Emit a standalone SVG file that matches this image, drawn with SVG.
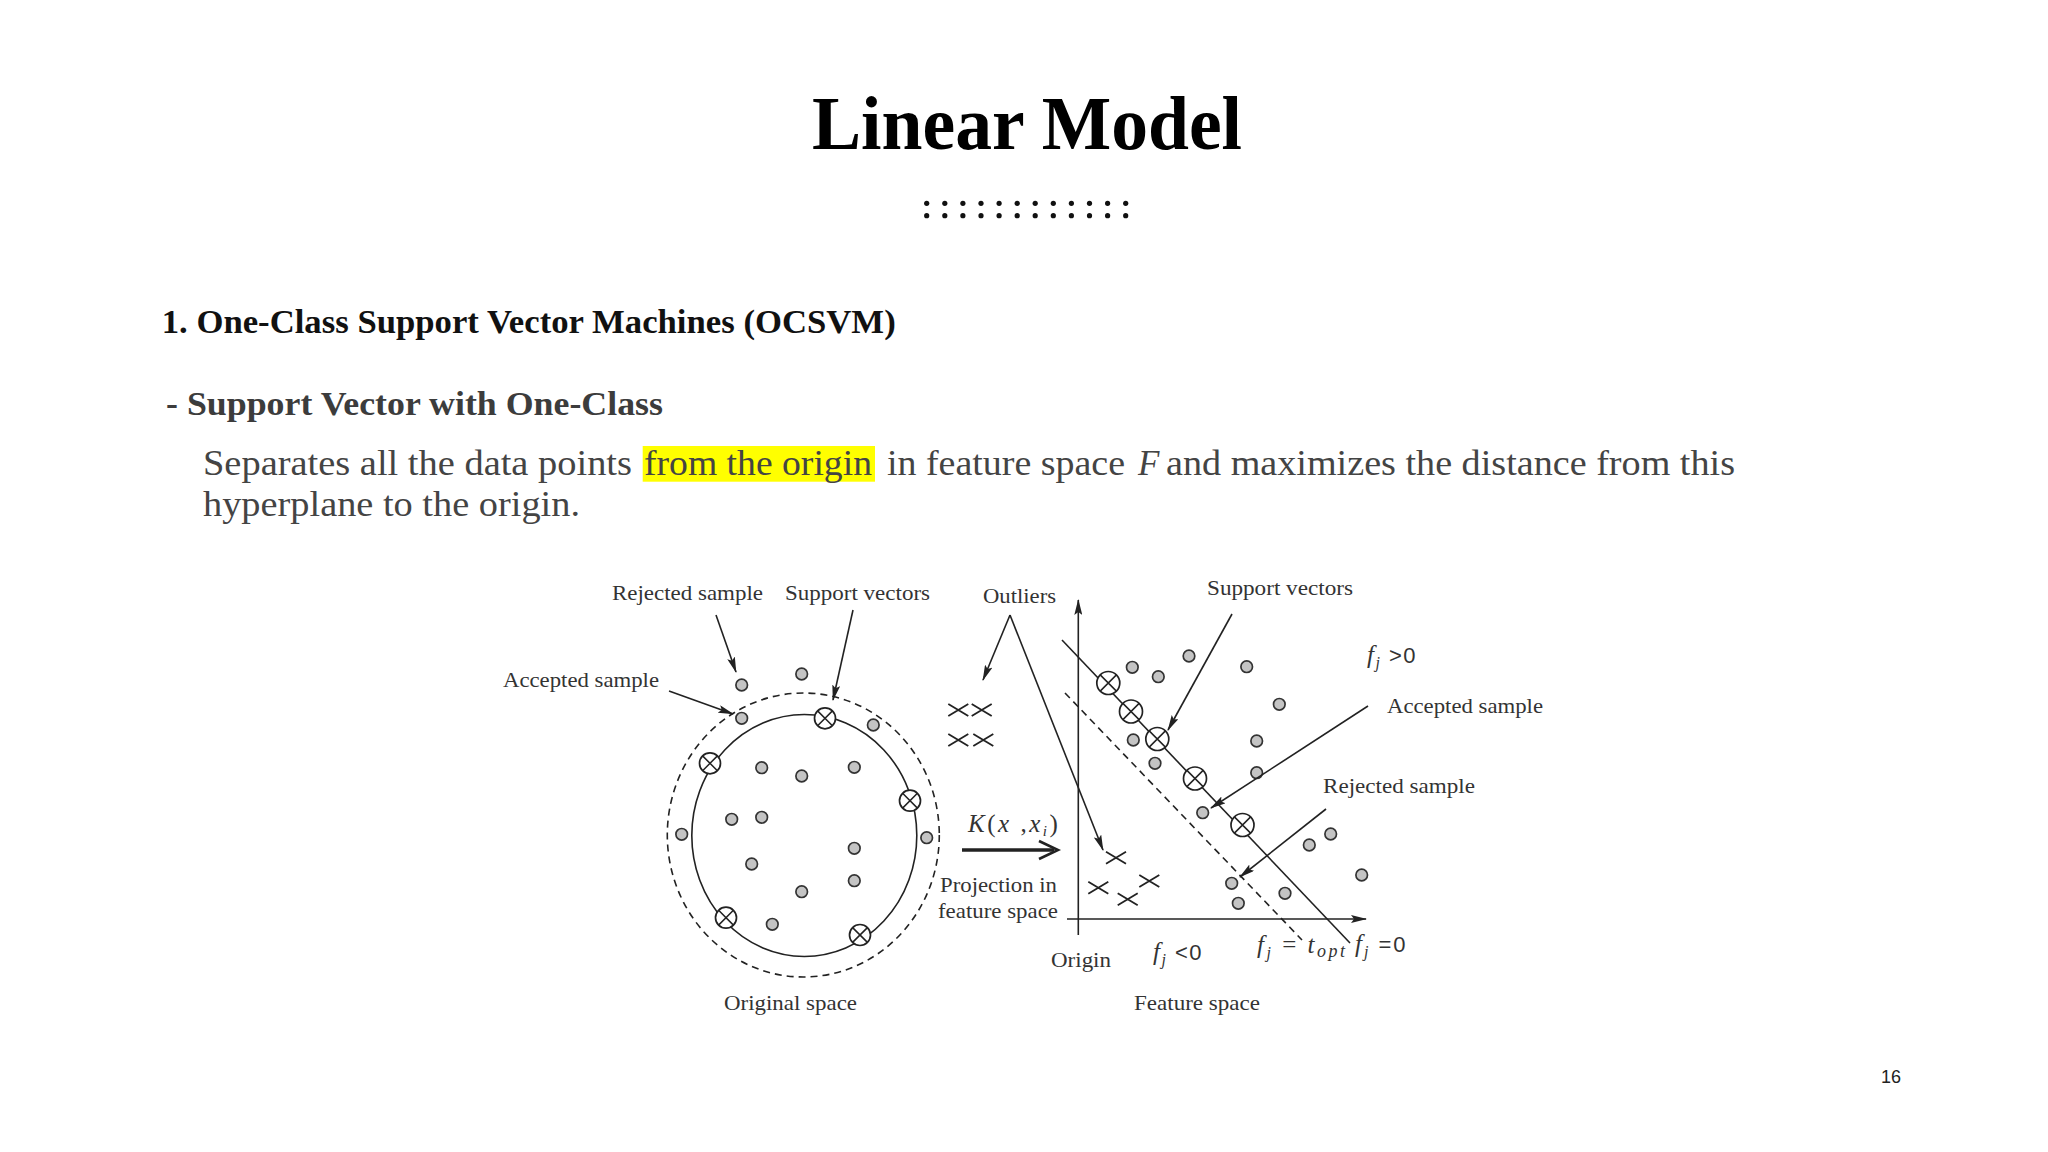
<svg xmlns="http://www.w3.org/2000/svg" xmlns:xlink="http://www.w3.org/1999/xlink" width="2048" height="1152" viewBox="0 0 2048 1152">
<style>
  .title{font-family:"Liberation Serif","DejaVu Serif",serif;font-weight:bold;fill:#000}
  .h1{font-family:"Liberation Serif","DejaVu Serif",serif;font-weight:bold;font-size:34px;fill:#111}
  .h2{font-family:"Liberation Serif","DejaVu Serif",serif;font-weight:bold;font-size:34px;fill:#3c3c3c}
  .body{font-family:"Liberation Serif","DejaVu Serif",serif;font-size:35px;fill:#444}
  .lab{font-family:"Liberation Serif","Times New Roman",serif;font-size:21px;fill:#333}
  .math{font-family:"Liberation Serif","Times New Roman",serif;font-size:25px;fill:#333}
  .it{font-style:italic}
  .sans{font-family:"Liberation Sans",Arial,sans-serif;font-size:22px}
  .ln{stroke:#222;stroke-width:1.6;fill:none}
  .arr{stroke:#222;stroke-width:1.6;fill:none;marker-end:url(#ah)}
  .dash{stroke:#222;stroke-width:1.6;fill:none;stroke-dasharray:7 5}
  .pg{font-family:"Liberation Sans",Arial,sans-serif;font-size:18px;fill:#222}
</style>
<defs>
  <marker id="ah" viewBox="0 0 16 8" refX="15" refY="4" markerWidth="16" markerHeight="8" markerUnits="userSpaceOnUse" orient="auto">
    <path d="M0,0 L16,4 L0,8 L3,4 Z" fill="#222"/>
  </marker>
  <g id="smp"><circle r="5.8" fill="#c4c4c4" stroke="#333" stroke-width="1.7"/></g>
  <g id="sv"><circle r="10.5" fill="#fff" stroke="#222" stroke-width="1.7"/><path d="M-7.4,-7.4 L7.4,7.4 M-7.4,7.4 L7.4,-7.4" stroke="#222" stroke-width="1.5"/></g>
  <g id="sv2"><circle r="11.5" fill="#fff" stroke="#222" stroke-width="1.7"/><path d="M-8.1,-8.1 L8.1,8.1 M-8.1,8.1 L8.1,-8.1" stroke="#222" stroke-width="1.5"/></g>
  <path id="cr" d="M-10,-6 L10,6 M-10,6 L10,-6" stroke="#222" stroke-width="1.8" fill="none"/>
</defs>
<rect width="2048" height="1152" fill="#fff"/>

<g id="title">
  <text class="title" x="812" y="149" font-size="77" textLength="430" lengthAdjust="spacingAndGlyphs">Linear Model</text>
</g>
<g id="title-dots" fill="#111">
  <circle cx="926.7" cy="203.3" r="2.6"/><circle cx="944.8" cy="203.3" r="2.6"/><circle cx="962.9" cy="203.3" r="2.6"/><circle cx="981" cy="203.3" r="2.6"/><circle cx="999.1" cy="203.3" r="2.6"/><circle cx="1017.2" cy="203.3" r="2.6"/><circle cx="1035.2" cy="203.3" r="2.6"/><circle cx="1053.3" cy="203.3" r="2.6"/><circle cx="1071.4" cy="203.3" r="2.6"/><circle cx="1089.5" cy="203.3" r="2.6"/><circle cx="1107.6" cy="203.3" r="2.6"/><circle cx="1125.7" cy="203.3" r="2.6"/>
  <circle cx="926.7" cy="215.7" r="2.6"/><circle cx="944.8" cy="215.7" r="2.6"/><circle cx="962.9" cy="215.7" r="2.6"/><circle cx="981" cy="215.7" r="2.6"/><circle cx="999.1" cy="215.7" r="2.6"/><circle cx="1017.2" cy="215.7" r="2.6"/><circle cx="1035.2" cy="215.7" r="2.6"/><circle cx="1053.3" cy="215.7" r="2.6"/><circle cx="1071.4" cy="215.7" r="2.6"/><circle cx="1089.5" cy="215.7" r="2.6"/><circle cx="1107.6" cy="215.7" r="2.6"/><circle cx="1125.7" cy="215.7" r="2.6"/>
</g>

<g id="heading-1">
  <text class="h1" x="161.7" y="333" textLength="734" lengthAdjust="spacingAndGlyphs">1. One-Class Support Vector Machines (OCSVM)</text>
</g>
<g id="heading-2">
  <text class="h2" x="166" y="415" textLength="497" lengthAdjust="spacingAndGlyphs">- Support Vector with One-Class</text>
</g>

<g id="body-text">
  <rect x="642.7" y="446" width="232.3" height="35.7" fill="#ffff00"/>
  <text class="body" x="203" y="475" textLength="429" lengthAdjust="spacingAndGlyphs">Separates all the data points</text>
  <text class="body" x="644" y="475" textLength="228" lengthAdjust="spacingAndGlyphs" fill="#333">from the origin</text>
  <text class="body" x="887" y="475" textLength="238" lengthAdjust="spacingAndGlyphs">in feature space</text>
  <text class="body it" x="1138" y="475">F</text>
  <text class="body" x="1166" y="475" textLength="569" lengthAdjust="spacingAndGlyphs">and maximizes the distance from this</text>
  <text class="body" x="203" y="516" textLength="377" lengthAdjust="spacingAndGlyphs">hyperplane to the origin.</text>
</g>

<g id="original-space">
  <ellipse cx="803.3" cy="835" rx="136" ry="142" class="dash"/>
  <ellipse cx="804.3" cy="835.5" rx="112.5" ry="121" class="ln"/>
  <use xlink:href="#smp" x="741.7" y="685"/>
  <use xlink:href="#smp" x="801.7" y="674"/>
  <use xlink:href="#smp" x="741.7" y="718.3"/>
  <use xlink:href="#smp" x="873.3" y="725"/>
  <use xlink:href="#smp" x="761.7" y="767.7"/>
  <use xlink:href="#smp" x="801.7" y="776"/>
  <use xlink:href="#smp" x="854.3" y="767.3"/>
  <use xlink:href="#smp" x="731.7" y="819.3"/>
  <use xlink:href="#smp" x="761.7" y="817.3"/>
  <use xlink:href="#smp" x="681.7" y="834.3"/>
  <use xlink:href="#smp" x="926.7" y="837.7"/>
  <use xlink:href="#smp" x="854.3" y="848.3"/>
  <use xlink:href="#smp" x="751.7" y="864"/>
  <use xlink:href="#smp" x="854.3" y="880.7"/>
  <use xlink:href="#smp" x="801.7" y="891.7"/>
  <use xlink:href="#smp" x="772.3" y="924.3"/>
  <use xlink:href="#sv" x="825" y="718.3"/>
  <use xlink:href="#sv" x="710" y="763.3"/>
  <use xlink:href="#sv" x="910" y="800.7"/>
  <use xlink:href="#sv" x="726" y="917.7"/>
  <use xlink:href="#sv" x="860" y="935"/>
</g>

<g id="outliers-original">
  <use xlink:href="#cr" x="958.3" y="710"/>
  <use xlink:href="#cr" x="981.7" y="710"/>
  <use xlink:href="#cr" x="958.3" y="740"/>
  <use xlink:href="#cr" x="983.3" y="740"/>
</g>

<g id="feature-space">
  <line x1="1062" y1="640" x2="1350" y2="943" class="ln"/>
  <line x1="1065" y1="693" x2="1302" y2="940" class="dash"/>
  <use xlink:href="#smp" x="1132.3" y="667.3"/>
  <use xlink:href="#smp" x="1158.3" y="676.7"/>
  <use xlink:href="#smp" x="1189" y="656"/>
  <use xlink:href="#smp" x="1133.3" y="740"/>
  <use xlink:href="#smp" x="1155" y="763.3"/>
  <use xlink:href="#smp" x="1202.7" y="812.7"/>
  <use xlink:href="#smp" x="1231.7" y="883.3"/>
  <use xlink:href="#smp" x="1238.3" y="903.3"/>
  <use xlink:href="#smp" x="1246.7" y="666.7"/>
  <use xlink:href="#smp" x="1279.3" y="704.3"/>
  <use xlink:href="#smp" x="1256.7" y="741"/>
  <use xlink:href="#smp" x="1256.7" y="772.7"/>
  <use xlink:href="#smp" x="1309.3" y="845"/>
  <use xlink:href="#smp" x="1330.7" y="834"/>
  <use xlink:href="#smp" x="1361.7" y="875"/>
  <use xlink:href="#smp" x="1285" y="893.3"/>
  <use xlink:href="#sv2" x="1108.3" y="683"/>
  <use xlink:href="#sv2" x="1131" y="711.5"/>
  <use xlink:href="#sv2" x="1157.3" y="739"/>
  <use xlink:href="#sv2" x="1195" y="778.5"/>
  <use xlink:href="#sv2" x="1242.5" y="825"/>
  <use xlink:href="#cr" x="1116" y="857.7"/>
  <use xlink:href="#cr" x="1098.3" y="887.7"/>
  <use xlink:href="#cr" x="1127.7" y="899.3"/>
  <use xlink:href="#cr" x="1149.3" y="881"/>
</g>

<g id="connectors">
  <line x1="716" y1="615" x2="736" y2="672" class="arr"/>
  <line x1="853" y1="610" x2="833" y2="700" class="arr"/>
  <line x1="669" y1="691" x2="733" y2="714" class="arr"/>
  <line x1="1010" y1="615" x2="983" y2="680" class="arr"/>
  <line x1="1010" y1="615" x2="1103" y2="850" class="arr"/>
  <line x1="1232" y1="614" x2="1168" y2="730" class="arr"/>
  <line x1="1368" y1="706" x2="1211" y2="808" class="arr"/>
  <line x1="1326" y1="809" x2="1240" y2="877" class="arr"/>
  <line x1="1078.3" y1="935" x2="1078.3" y2="600" class="arr"/>
  <line x1="1067" y1="919" x2="1366" y2="919" class="arr"/>
  <line x1="962" y1="850" x2="1054" y2="850" stroke="#222" stroke-width="3.6"/>
  <path d="M1039,841 L1058,850 L1039,859" stroke="#222" stroke-width="2.6" fill="none"/>
</g>

<g id="labels">
  <text class="lab" x="612" y="600" textLength="151" lengthAdjust="spacingAndGlyphs">Rejected sample</text>
  <text class="lab" x="785" y="600" textLength="145" lengthAdjust="spacingAndGlyphs">Support vectors</text>
  <text class="lab" x="503" y="687" textLength="156" lengthAdjust="spacingAndGlyphs">Accepted sample</text>
  <text class="lab" x="724" y="1010" textLength="133" lengthAdjust="spacingAndGlyphs">Original space</text>
  <text class="lab" x="983" y="603" textLength="73" lengthAdjust="spacingAndGlyphs">Outliers</text>
  <text class="lab" x="1207" y="595" textLength="146" lengthAdjust="spacingAndGlyphs">Support vectors</text>
  <text class="lab" x="1387" y="713" textLength="156" lengthAdjust="spacingAndGlyphs">Accepted sample</text>
  <text class="lab" x="1323" y="793" textLength="152" lengthAdjust="spacingAndGlyphs">Rejected sample</text>
  <text class="lab" x="940" y="892" textLength="117" lengthAdjust="spacingAndGlyphs">Projection in</text>
  <text class="lab" x="938" y="918" textLength="120" lengthAdjust="spacingAndGlyphs">feature space</text>
  <text class="lab" x="1051" y="967" textLength="60" lengthAdjust="spacingAndGlyphs">Origin</text>
  <text class="lab" x="1134" y="1010" textLength="126" lengthAdjust="spacingAndGlyphs">Feature space</text>
  <text class="math" x="968" y="832" font-size="23" letter-spacing="2.5"><tspan class="it">K</tspan>(<tspan class="it">x</tspan> ,<tspan class="it">x</tspan><tspan class="it" font-size="15" dy="4">i</tspan><tspan dy="-4">)</tspan></text>
  <text class="math" x="1367" y="663" letter-spacing="1.5"><tspan class="it">f</tspan><tspan class="it" font-size="16" dy="5">j</tspan><tspan class="sans" dy="-5"> &gt;0</tspan></text>
  <text class="math" x="1153" y="960" letter-spacing="1.5"><tspan class="it">f</tspan><tspan class="it" font-size="16" dy="5">j</tspan><tspan class="sans" dy="-5"> &lt;0</tspan></text>
  <text class="math" x="1257" y="953" letter-spacing="2.5"><tspan class="it">f</tspan><tspan class="it" font-size="16" dy="5">j</tspan><tspan dy="-5"> = </tspan><tspan class="it">t</tspan><tspan class="it" font-size="18" dy="4">opt</tspan></text>
  <text class="math" x="1355" y="952" letter-spacing="2"><tspan class="it">f</tspan><tspan class="it" font-size="16" dy="5">j</tspan><tspan class="sans" dy="-5"> =0</tspan></text>
</g>

<g id="page-number">
  <text class="pg" x="1881" y="1083">16</text>
</g>
</svg>
